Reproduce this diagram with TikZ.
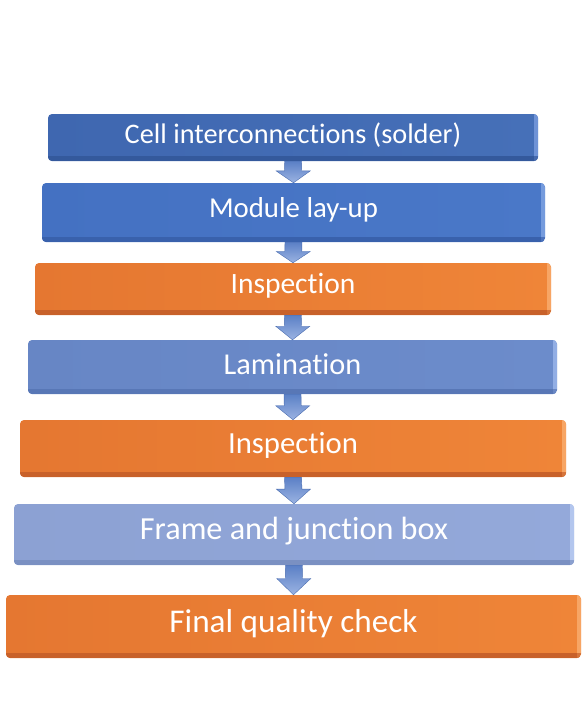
\documentclass[tikz,border=0pt]{standalone}
\usepackage{fontspec}
\setmainfont{Carlito}[Ligatures=NoCommon]
\usetikzlibrary{calc}
\definecolor{bA}{HTML}{3F67B0}
\definecolor{bAr}{HTML}{4670B8}
\definecolor{bAd}{HTML}{34599C}
\definecolor{bAl}{HTML}{6F93D6}
\definecolor{bB}{HTML}{4471C2}
\definecolor{bBr}{HTML}{4A78C8}
\definecolor{bBd}{HTML}{3961AC}
\definecolor{bBl}{HTML}{759BDD}
\definecolor{bC}{HTML}{6786C5}
\definecolor{bCr}{HTML}{6C8CCB}
\definecolor{bCd}{HTML}{5877B6}
\definecolor{bCl}{HTML}{92AEE4}
\definecolor{bD}{HTML}{8CA1D3}
\definecolor{bDr}{HTML}{94A9DA}
\definecolor{bDd}{HTML}{7A90C2}
\definecolor{bDl}{HTML}{B3C6EE}
\definecolor{oA}{HTML}{E57731}
\definecolor{oAr}{HTML}{EF8538}
\definecolor{oAd}{HTML}{C8612A}
\definecolor{oAl}{HTML}{F7A564}
\definecolor{arT}{HTML}{5B80C6}
\definecolor{arB}{HTML}{9BB3E2}
\definecolor{arE}{HTML}{4A6DB0}
\tikzset{
  stage/.style={rounded corners=4pt, inner sep=0pt, text=white, draw=none},
  tone/.style n args={4}{left color=#1, right color=#2,
    path picture={
      \fill[#3, sharp corners] ([yshift=5pt]path picture bounding box.south west) rectangle (path picture bounding box.south east);
      \fill[#4, sharp corners] ([xshift=-4pt]path picture bounding box.north east) rectangle ([yshift=5pt]path picture bounding box.south east);
      \fill[#3!70!#4, sharp corners] ([xshift=-4pt,yshift=5pt]path picture bounding box.south east) rectangle (path picture bounding box.south east);
    }},
  blueA/.style={tone={bA}{bAr}{bAd}{bAl}},
  blueB/.style={tone={bB}{bBr}{bBd}{bBl}},
  blueC/.style={tone={bC}{bCr}{bCd}{bCl}},
  blueD/.style={tone={bD}{bDr}{bDd}{bDl}},
  orangeA/.style={tone={oA}{oAr}{oAd}{oAl}},
  flowarrow/.style={top color=arT, bottom color=arB, draw=arE, line width=0.4pt, line join=miter},
}
\newcommand{\up}[2]{\raisebox{#1}[\height][\depth]{#2}}
\begin{document}
\begin{tikzpicture}[x=1pt,y=-1pt]
\useasboundingbox (0,0) rectangle (586,715);
\fill[white] (0,0) rectangle (586,715);
\node[stage, blueA, minimum width=490pt, minimum height=47pt, font=\fontsize{28.3}{30}\selectfont] (b1) at (293,137.5) {\up{2.5pt}{Cell interconnections (solder)}};
\node[stage, blueB, minimum width=503pt, minimum height=59pt, font=\fontsize{28.8}{31}\selectfont] (b2) at (293.5,212.5) {\up{3pt}{Module lay-up}};
\node[stage, orangeA, minimum width=516pt, minimum height=52pt, font=\fontsize{29.5}{31}\selectfont] (b3) at (293,289) {\up{3pt}{Inspection}};
\node[stage, blueC, minimum width=529pt, minimum height=54pt, font=\fontsize{30.3}{32}\selectfont] (b4) at (292.5,367) {\up{3pt}{Lamination}};
\node[stage, orangeA, minimum width=546pt, minimum height=57pt, font=\fontsize{30.7}{32}\selectfont] (b5) at (293,448.5) {\up{3pt}{Inspection}};
\node[stage, blueD, minimum width=560pt, minimum height=61pt, font=\fontsize{32.2}{34}\selectfont] (b6) at (294,534.5) {\up{3pt}{Frame and junction box}};
\node[stage, orangeA, minimum width=575pt, minimum height=63pt, font=\fontsize{33.2}{35}\selectfont] (b7) at (293.5,626.5) {\up{3pt}{Final quality check}};
\foreach \a/\b in {b1/b2,b2/b3,b3/b4,b4/b5,b5/b6,b6/b7}{
  \draw[flowarrow] let \p1=(\a.south), \p2=(\b.north) in
    ($(\p1)+(-8.5pt,0)$) --
    ($(\p1)!0.45!(\p2)+(-8.5pt,0)$) --
    ($(\p1)!0.45!(\p2)+(-17pt,0)$) --
    ($(\p2)$) --
    ($(\p1)!0.45!(\p2)+(17pt,0)$) --
    ($(\p1)!0.45!(\p2)+(8.5pt,0)$) --
    ($(\p1)+(8.5pt,0)$) -- cycle;
}
\end{tikzpicture}
\end{document}
